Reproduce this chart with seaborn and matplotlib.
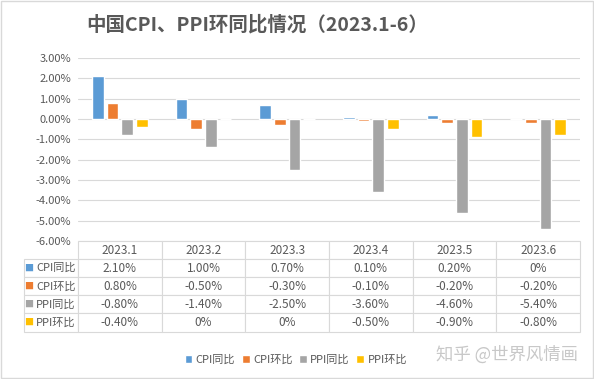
"""China CPI / PPI month-on-month and year-on-year chart (2023.1-6)."""

import matplotlib

matplotlib.use("Agg")

import matplotlib.pyplot as plt
import pandas as pd
import seaborn as sns
from matplotlib.patches import Rectangle
from matplotlib.ticker import FuncFormatter, MultipleLocator

months = ["2023.1", "2023.2", "2023.3", "2023.4", "2023.5", "2023.6"]
series_names = ["CPI同比", "CPI环比", "PPI同比", "PPI环比"]
cpi_yoy = [2.10, 1.00, 0.70, 0.10, 0.20, 0.00]
cpi_mom = [0.80, -0.50, -0.30, -0.10, -0.20, -0.20]
ppi_yoy = [-0.80, -1.40, -2.50, -3.60, -4.60, -5.40]
ppi_mom = [-0.40, 0.00, 0.00, -0.50, -0.90, -0.80]

COLORS = ["#5B9BD5", "#ED7D31", "#A5A5A5", "#FFC000"]
TEXT = "#595959"
GRID = "#D9D9D9"


def fmt_pct(v: float) -> str:
    return "0%" if abs(v) < 1e-9 else f"{v:.2f}%"


series_values = [cpi_yoy, cpi_mom, ppi_yoy, ppi_mom]
df = pd.DataFrame(
    [
        {"month": m, "series": name, "value": v}
        for name, vals in zip(series_names, series_values)
        for m, v in zip(months, vals)
    ]
)

sns.set_theme(style="white")
plt.rcParams["font.family"] = ["Noto Sans CJK SC", "DejaVu Sans"]
plt.rcParams["axes.unicode_minus"] = False

fig = plt.figure(figsize=(5.94, 3.79), dpi=100)
ax = fig.add_axes([78 / 594, 1 - 241 / 379, 502 / 594, 183 / 379])

sns.barplot(
    data=df,
    x="month",
    y="value",
    hue="series",
    hue_order=series_names,
    order=months,
    palette=COLORS,
    saturation=1,
    width=0.7,
    gap=0.2,
    ax=ax,
)

ax.set_ylim(-6, 3)
ax.yaxis.set_major_locator(MultipleLocator(1))
ax.yaxis.set_major_formatter(FuncFormatter(lambda v, _: f"{v:.2f}%"))
ax.yaxis.grid(True, color=GRID, linewidth=0.8)
ax.set_axisbelow(True)
ax.set_xlabel("")
ax.set_ylabel("")
ax.tick_params(axis="x", labelbottom=False, length=0)
ax.tick_params(axis="y", length=0, labelsize=8, labelcolor=TEXT, pad=5)
for side in ["left", "right", "top", "bottom"]:
    ax.spines[side].set_visible(False)

handles, labels = ax.get_legend_handles_labels()
ax.get_legend().remove()

# data table under the plot; the bbox only covers the grid, the
# row-label column hangs to the left of it
label_w = 54 / 502
table_h = (331.5 - 241) / 183
cell_text = [[fmt_pct(v) for v in vals] for vals in series_values]
tbl = ax.table(
    cellText=cell_text,
    colLabels=months,
    colWidths=[1 / 6] * 6,
    cellLoc="center",
    colLoc="center",
    bbox=[0, -table_h, 1, table_h],
)
cell_h = tbl[1, 0].get_height()
for i, name in enumerate(series_names):
    cell = tbl.add_cell(i + 1, -1, width=label_w, height=cell_h, text=name, loc="right")
    cell.PAD = 0.04
tbl.auto_set_font_size(False)
for (r, c), cell in tbl.get_celld().items():
    cell.set_edgecolor(GRID)
    cell.set_linewidth(0.8)
    cell.get_text().set_color(TEXT)
    cell.get_text().set_fontsize(8 if c == -1 else 8.5)

row_h = table_h / 5
for i, color in enumerate(COLORS):
    ax.text(
        (29 - 78) / 502,
        -(i + 1.5) * row_h,
        "■",
        color=color,
        fontsize=6.5,
        ha="center",
        va="center",
        transform=ax.transAxes,
    )

fig.legend(
    handles,
    labels,
    loc="center",
    bbox_to_anchor=(0.498, 1 - 360 / 379),
    ncol=4,
    frameon=False,
    fontsize=8,
    labelcolor=TEXT,
    handlelength=0.7,
    handleheight=0.7,
    handletextpad=0.3,
    columnspacing=0.6,
)

fig.text(
    257 / 594,
    1 - 25 / 379,
    "中国CPI、PPI环同比情况（2023.1-6）",
    ha="center",
    va="center",
    fontsize=14,
    fontweight="bold",
    color=TEXT,
)

fig.text(
    578 / 594,
    1 - 355 / 379,
    "知乎 @世界风情画",
    ha="right",
    va="center",
    fontsize=12.5,
    color="#C8C8C8",
)

fig.patches.append(
    Rectangle(
        (0.002, 0.002),
        0.996,
        0.995,
        transform=fig.transFigure,
        fill=False,
        edgecolor=GRID,
        linewidth=1,
    )
)

fig.savefig("out.png", dpi=100, facecolor="white")
